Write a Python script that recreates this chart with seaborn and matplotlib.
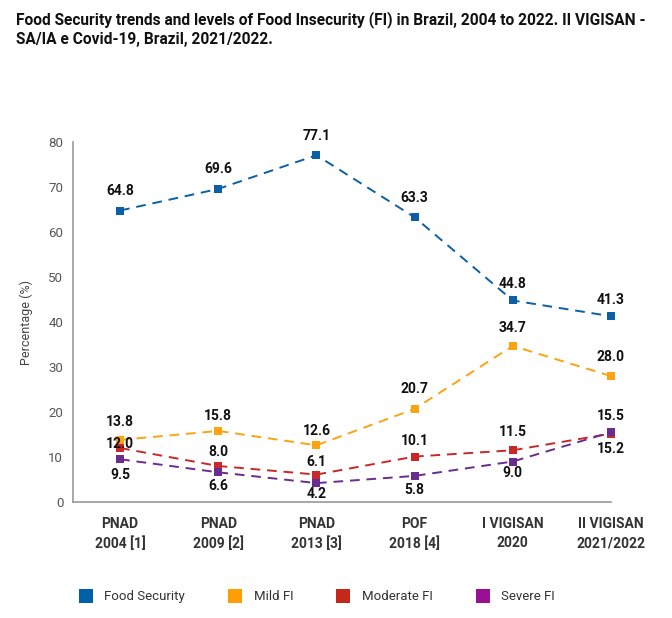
import numpy as np
import pandas as pd
import matplotlib
matplotlib.use('Agg')
import matplotlib.pyplot as plt
import seaborn as sns
from matplotlib.lines import Line2D

# categories and series values
categories = ['PNAD\n2004 [1]', 'PNAD\n2009 [2]', 'PNAD\n2013 [3]',
              'POF\n2018 [4]', 'I VIGISAN\n2020', 'II VIGISAN\n2021/2022']
food_security = [64.8, 69.6, 77.1, 63.3, 44.8, 41.3]
mild_fi = [13.8, 15.8, 12.6, 20.7, 34.7, 28.0]
moderate_fi = [12.0, 8.0, 6.1, 10.1, 11.5, 15.2]
severe_fi = [9.5, 6.6, 4.2, 5.8, 9.0, 15.5]

series_names = ['Food Security', 'Mild FI', 'Moderate FI', 'Severe FI']
line_colors = ['#0b5fa5', '#fca311', '#c9282a', '#6a2d8f']
legend_colors = ['#0060a8', '#ff9e00', '#c3281b', '#9b0f93']
# label offset (points) per point: positive above, negative below
label_offset = {
    'Food Security': [14, 14, 14, 14, 12, 12],
    'Mild FI': [13, 11, 10, 14, 13, 14],
    'Moderate FI': [3, 10, 9, 11, 13, -11],
    'Severe FI': [-11, -10, -8, -10, -8, 12],
}

df = pd.DataFrame({
    'x': list(range(len(categories))) * 4,
    'value': food_security + mild_fi + moderate_fi + severe_fi,
    'series': np.repeat(series_names, len(categories)),
})

sns.set_style('white')
plt.rcParams['font.family'] = ['Roboto', 'DejaVu Sans']

fig = plt.figure(figsize=(6.72, 6.18), dpi=100)
ax = fig.add_axes([0.1086, 0.1877, 0.8005, 0.5823])

for name, col in zip(series_names, line_colors):
    sub = df[df['series'] == name]
    sns.lineplot(data=sub, x='x', y='value', ax=ax, color=col, linestyle=(0, (5, 3.5)),
                 linewidth=1.4, marker='s', markersize=5.5, markeredgewidth=0,
                 clip_on=False, legend=False)
    for xv, yv, off in zip(sub['x'], sub['value'], label_offset[name]):
        ax.annotate(f'{yv:.1f}', (xv, yv), xytext=(0, off), textcoords='offset points',
                    ha='center', va='center', fontsize=10, fontweight='bold',
                    color='#111111')

ax.set_xlim(-0.48, 5)
ax.set_ylim(0, 80)
ax.set_yticks(range(0, 81, 10))
ax.set_xticks(range(len(categories)))
ax.set_xticklabels(categories, fontsize=10, fontweight='bold', color='#333333',
                   linespacing=1.45)
ax.tick_params(axis='y', direction='in', length=10, width=1, color='#999999',
               labelsize=9.5, labelcolor='#555555', pad=7)
ax.tick_params(axis='x', direction='in', length=6, width=1, color='#444444', pad=11)
ax.set_xlabel('')
ax.set_ylabel('Percentage (%)', fontsize=9, color='#444444', labelpad=11)
for s in ['top', 'right']:
    ax.spines[s].set_visible(False)
for s in ['left', 'bottom']:
    ax.spines[s].set_color('#999999')
    ax.spines[s].set_linewidth(1.2)

fig.text(0.024, 0.982, 'Food Security trends and levels of Food Insecurity (FI) in Brazil, 2004 to 2022. II VIGISAN -\nSA/IA e Covid-19, Brazil, 2021/2022.',
         ha='left', va='top', fontsize=11.2, fontweight='bold', color='#111111',
         linespacing=1.35, family=['Liberation Sans Narrow', 'Roboto', 'DejaVu Sans'])

handles = [Line2D([], [], linestyle='none', marker='s', markersize=10,
                  markerfacecolor=c, markeredgewidth=0) for c in legend_colors]
fig.legend(handles, series_names, loc='center left', bbox_to_anchor=(0.1, 0.034),
           ncol=4, frameon=False, fontsize=9.5, handlelength=1.0, handletextpad=0.9,
           columnspacing=3.3, labelcolor='#333333')

fig.savefig('out.png', dpi=100)
